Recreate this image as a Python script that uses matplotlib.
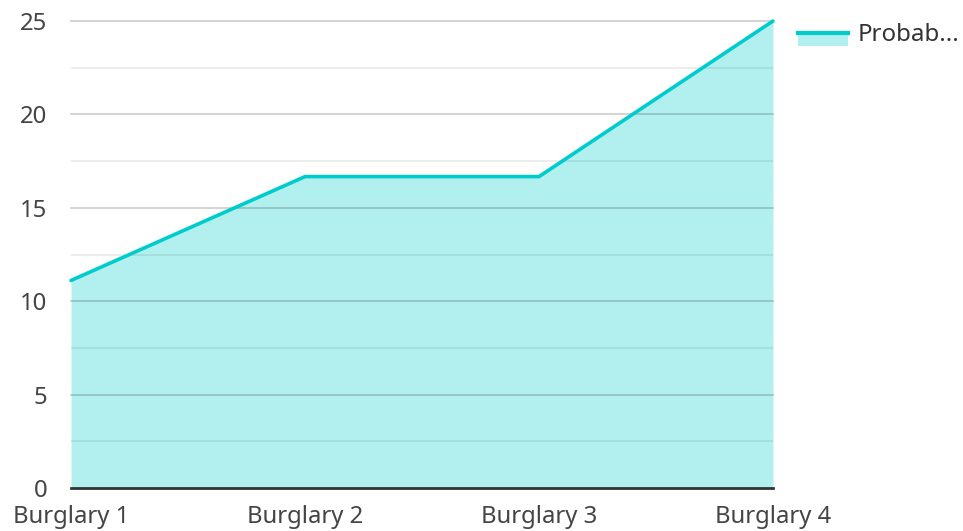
import matplotlib
matplotlib.use("Agg")
import matplotlib.pyplot as plt
from matplotlib.lines import Line2D
from matplotlib.patches import Rectangle
import numpy as np

categories = ["Burglary 1", "Burglary 2", "Burglary 3", "Burglary 4"]
values = [11.11, 16.67, 16.67, 25.0]
series_name = "Probab..."
y_ticks = [0, 5, 10, 15, 20, 25]

line_color = "#00cccc"
fill_color = "#b2f0ef"

plt.rcParams['font.family'] = ['Noto Sans', 'DejaVu Sans']

fig = plt.figure(figsize=(9.63, 5.31), dpi=100)
ax = fig.add_axes([71/963, 1-488/531, (773-71)/963, (488-21)/531])

x = np.arange(len(categories))
ax.fill_between(x, 0, values, color=fill_color, lw=0, zorder=1)
ax.plot(x, values, color=line_color, lw=2.6, zorder=4, solid_capstyle='round', clip_on=False)

ax.set_xlim(0, len(categories)-1)
ax.set_ylim(0, 25)
ax.set_yticks(y_ticks)
ax.set_xticks(x)
ax.set_xticklabels(categories)

for yv in y_ticks[1:]:
    ax.axhline(yv, color="black", alpha=0.2, lw=1.2, zorder=3, clip_on=False)
for yv in np.arange(2.5, 25, 5):
    ax.axhline(yv, color="black", alpha=0.09, lw=1.2, zorder=3)
ax.axhline(0, color="#333333", lw=2, zorder=5, clip_on=False)

for s in ax.spines.values():
    s.set_visible(False)
ax.tick_params(axis='both', which='both', length=0, labelsize=17.2, colors="#444444")
ax.tick_params(axis='y', pad=17)
ax.tick_params(axis='x', pad=12.5)

# legend
fig.patches.append(Rectangle((798/963, 1-46/531), 50/963, 12/531, transform=fig.transFigure,
                             facecolor=fill_color, edgecolor='none'))
fig.lines.append(Line2D([798/963, 848/963], [1-32.5/531, 1-32.5/531], transform=fig.transFigure,
                        color=line_color, lw=3))
fig.text(858/963, 1-35/531, series_name, fontsize=17.3, color="#333333", va='center', ha='left')

fig.savefig("out.png", dpi=100)
